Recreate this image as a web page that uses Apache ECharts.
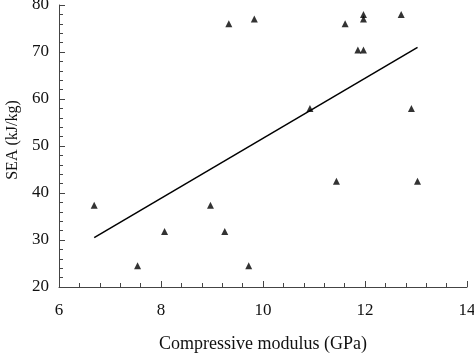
<!DOCTYPE html>
<html>
<head>
<meta charset="utf-8">
<script src="https://cdn.jsdelivr.net/npm/echarts@6/dist/echarts.min.js"></script>
<style>
html,body{margin:0;padding:0;background:#fff;}
#main{width:474px;height:353px;}
</style>
</head>
<body>
<div id="main"></div>
<script>
// measured points: compressive modulus (GPa) vs SEA (kJ/kg)
var modulus = [6.69, 7.54, 8.07, 8.97, 9.25, 9.33, 9.72, 9.83, 10.92, 11.44, 11.61, 11.86, 11.97, 11.97, 11.97, 12.71, 12.91, 13.03];
var sea     = [37.4, 24.5, 31.8, 37.4, 31.8, 76.0, 24.5, 77.0, 58.0, 42.5, 76.0, 70.4, 70.4, 77.0, 78.0, 78.0, 58.0, 42.5];
// trend line ends as drawn
var fitX = [6.69, 13.03];
var fitY = [30.5, 71.0];

var pts = [];
for (var i = 0; i < modulus.length; i++) {
    pts.push([modulus[i], sea[i]]);
}
var fit = [];
for (var j = 0; j < fitX.length; j++) {
    fit.push([fitX[j], fitY[j]]);
}

var font = 'Liberation Serif';
var axisCommon = {
    axisLine: { show: true, lineStyle: { color: '#444', width: 1 } },
    axisTick: { show: true, inside: true, length: 6, lineStyle: { color: '#444' } },
    minorTick: { show: true, splitNumber: 5, length: 4, lineStyle: { color: '#444' } },
    splitLine: { show: false },
    minorSplitLine: { show: false }
};

var option = {
    animation: false,
    backgroundColor: '#fff',
    grid: { left: 59, right: 7, top: 5, bottom: 66, outerBoundsMode: 'none', containLabel: false },
    xAxis: Object.assign({
        type: 'value',
        min: 6, max: 14, interval: 2,
        name: 'Compressive modulus (GPa)',
        nameLocation: 'middle',
        nameGap: 48,
        nameTextStyle: { fontFamily: font, fontSize: 18, color: '#111' },
        axisLabel: { fontFamily: font, fontSize: 17, color: '#111', margin: 15 }
    }, axisCommon),
    yAxis: Object.assign({
        type: 'value',
        min: 20, max: 80, interval: 10,
        name: 'SEA (kJ/kg)',
        nameLocation: 'middle',
        nameGap: 38,
        nameTextStyle: { fontFamily: font, fontSize: 16, color: '#111', padding: [0, 0, 0, 12] },
        axisLabel: { fontFamily: font, fontSize: 17, color: '#111', margin: 10 }
    }, axisCommon),
    series: [
        {
            type: 'scatter',
            data: pts,
            symbol: 'triangle',
            symbolSize: 7,
            itemStyle: { color: '#000' }
        },
        {
            type: 'line',
            data: fit,
            symbol: 'none',
            lineStyle: { color: '#000', width: 1.5 }
        }
    ]
};

var myChart = echarts.init(document.getElementById('main'));
myChart.setOption(option);
</script>
</body>
</html>
